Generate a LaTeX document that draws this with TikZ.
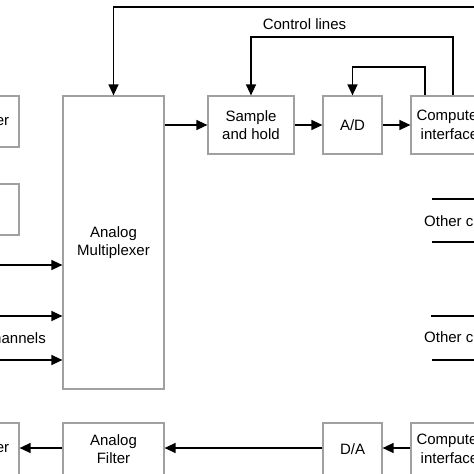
\documentclass[tikz,border=0pt]{standalone}
\usepackage{fontspec}
\setmainfont{Liberation Sans}
\usetikzlibrary{arrows.meta,calc}
\definecolor{boxgray}{RGB}{160,160,160}
\tikzset{
  blk/.style={draw=boxgray, line width=1.2pt, fill=white, inner sep=0pt, align=center,
    font=\fontsize{15pt}{18.5pt}\selectfont},
  arr/.style={line width=1.4pt, -{Triangle[length=11pt,width=10pt]}},
  wire/.style={line width=1.4pt},
  lbl/.style={inner sep=0pt, font=\fontsize{15pt}{18.5pt}\selectfont}
}
\begin{document}
\begin{tikzpicture}[x=1pt,y=-1pt]
\useasboundingbox (0,0) rectangle (474,474);
\clip (0,0) rectangle (474,474);
% boxes
\node[blk, minimum width=78pt, minimum height=51pt] (amp1) at (-20,121.5) {Amplifier};
\node[blk, minimum width=78pt, minimum height=51pt] (box2) at (-20,209.5) {};
\node[blk, minimum width=101pt, minimum height=293pt] (mux) at (113.5,242.5) {Analog\\Multiplexer};
\node[blk, minimum width=86pt, minimum height=58pt] (sh) at (251,125) {Sample\\and hold};
\node[blk, minimum width=59pt, minimum height=58pt] (ad) at (352.5,125) {A/D};
\node[blk, minimum width=77pt, minimum height=58pt] (ci) at (449.5,125) {Computer\\interface};
\node[blk, minimum width=78pt, minimum height=52pt] (amp2) at (-20,449) {Amplifier};
\node[blk, minimum width=101pt, minimum height=52pt] (filt) at (113.5,449) {Analog\\Filter};
\node[blk, minimum width=59pt, minimum height=52pt] (da) at (352.5,449) {D/A};
\node[blk, minimum width=77pt, minimum height=52pt] (ci2) at (449.5,449) {Computer\\interface};
% top row connectors
\draw[arr] (mux.east |- sh.west) -- (sh.west);
\draw[arr] (sh.east) -- (ad.west);
\draw[arr] (ad.east) -- (ci.west);
% top control line into multiplexer
\coordinate (topR) at (480,7);
\draw[arr] (topR) -| (mux.north);
% control lines
\node[lbl] (cl) at (304.5,24) {Control lines};
\draw[arr] ([xshift=3.5pt]ci.north) |- (251,37) -- (sh.north);
\draw[arr] ([xshift=-24.5pt]ci.north) |- (352.5,67) -- (ad.north);
% input channels
\coordinate (in1) at (-10,265);
\coordinate (in2) at (-10,316);
\coordinate (in3) at (-10,360);
\draw[arr] (in1) -- (in1 -| mux.west);
\draw[arr] (in2) -- (in2 -| mux.west);
\draw[arr] (in3) -- (in3 -| mux.west);
\node[lbl, anchor=east] (oc0) at (46,338) {Other channels};
% right side other channels
\coordinate (r1a) at (432,199); \coordinate (r1b) at (480,199);
\coordinate (r2a) at (432,242); \coordinate (r2b) at (480,242);
\coordinate (r3a) at (431,316); \coordinate (r3b) at (480,316);
\coordinate (r4a) at (432,360); \coordinate (r4b) at (480,360);
\draw[wire] (r1a) -- (r1b);
\draw[wire] (r2a) -- (r2b);
\draw[wire] (r3a) -- (r3b);
\draw[wire] (r4a) -- (r4b);
\node[lbl, anchor=west] (oc1) at (424,221) {Other channels};
\node[lbl, anchor=west] (oc2) at (424,337) {Other channels};
% bottom row
\draw[arr] (ci2.west |- 0,448) -- (da.east |- 0,448);
\draw[arr] (da.west |- 0,448) -- (filt.east |- 0,448);
\draw[arr] (filt.west |- 0,448) -- (amp2.east |- 0,448);
\end{tikzpicture}
\end{document}
